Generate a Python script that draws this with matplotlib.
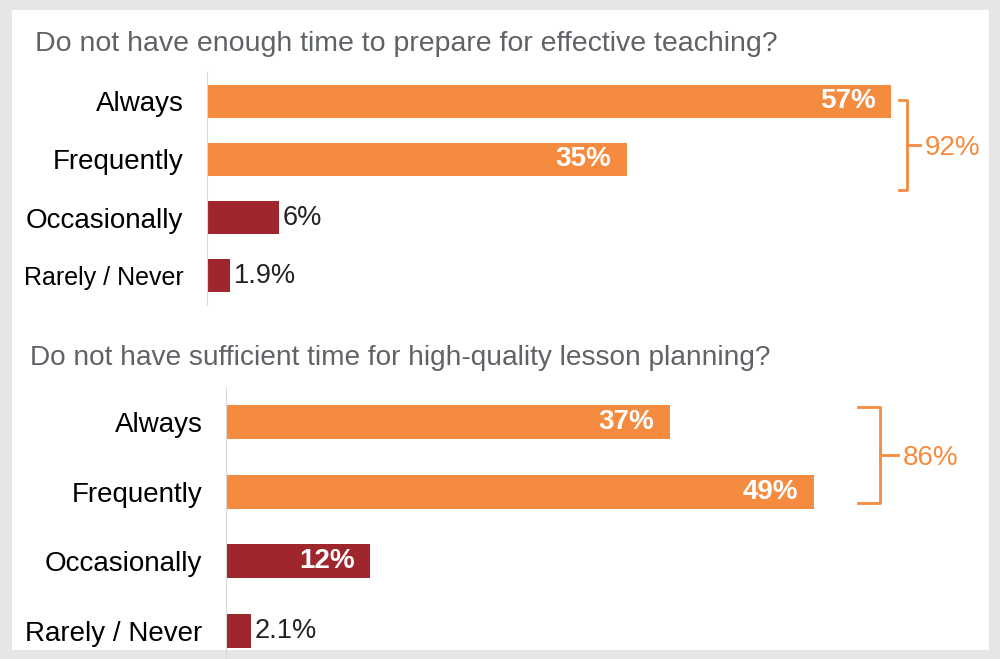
import matplotlib.pyplot as plt
from matplotlib.patches import Rectangle

plt.rcParams['font.family'] = ['Liberation Sans', 'DejaVu Sans']

# Данные
categories = ['Always', 'Frequently', 'Occasionally', 'Rarely / Never']
title_top = 'Do not have enough time to prepare for effective teaching?'
values_top = [57, 35, 6, 1.9]
labels_top = ['57%', '35%', '6%', '1.9%']
total_top = '92%'

title_bottom = 'Do not have sufficient time for high-quality lesson planning?'
values_bottom = [37, 49, 12, 2.1]
labels_bottom = ['37%', '49%', '12%', '2.1%']
total_bottom = '86%'

orange = '#F58B3F'
red = '#A0262D'
colors = [orange, orange, red, red]

W, H = 1000, 659
fig = plt.figure(figsize=(W / 100, H / 100), dpi=100)
fig.patch.set_facecolor('#e6e6e6')
fig.patches.append(Rectangle((12 / W, (H - 650) / H), 977 / W, 640 / H,
                             transform=fig.transFigure, facecolor='white',
                             edgecolor='none', zorder=-5))


def panel(left, top, bottom, values, labels, title, title_xy, title_size,
          total, bracket, rare_size, bar_h):
    ax = fig.add_axes([left / W, (H - bottom) / H, (990 - left) / W, (bottom - top) / H])
    ax.patch.set_alpha(0)
    ax.barh(range(len(values)), values, height=bar_h, color=colors)
    ax.set_xlim(0, (990 - left) / 12)
    ax.set_ylim(3.5, -0.5)
    for s in ['top', 'right', 'bottom']:
        ax.spines[s].set_visible(False)
    ax.spines['left'].set_color('#d9d9d9')
    ax.set_xticks([])
    ax.set_yticks(range(len(categories)))
    ax.set_yticklabels(categories, fontsize=20)
    ax.get_yticklabels()[3].set_fontsize(rare_size)
    ax.tick_params(axis='y', length=0, pad=17)
    for i, (v, lab) in enumerate(zip(values, labels)):
        if v >= 10:
            ax.text(v - 1.3, i, lab, ha='right', va='center', color='white',
                    fontsize=20, fontweight='bold')
        else:
            ax.text(v + 0.3, i, lab, ha='left', va='center', color='#222222',
                    fontsize=19.5)
    # фигурная скобка
    bx, y0, y1, ym, sx, tx = bracket
    ax.plot([sx, bx, bx, sx], [y0, y0, y1, y1], color=orange, lw=2,
            clip_on=False, solid_joinstyle='round')
    ax.plot([bx, tx], [ym, ym], color=orange, lw=2, clip_on=False)
    ax.text(tx + 0.4, ym + 0.05, total, ha='left', va='center', color=orange,
            fontsize=20, clip_on=False)
    fig.text(title_xy[0] / W, (H - title_xy[1]) / H, title, ha='left',
             va='center', color='#5f6368', fontsize=title_size)
    return ax


panel(207, 72, 305, values_top, labels_top, title_top, (35, 44), 20.5,
      total_top, (58.3, -0.02, 1.53, 0.755, 57.7, 59.4), 18, 0.57)
panel(226, 387, 666, values_bottom, labels_bottom, title_bottom, (30, 358), 20.2,
      total_bottom, (54.5, -0.22, 1.16, 0.47, 52.7, 56.0), 20, 0.49)

fig.savefig('out.png', dpi=100, facecolor=fig.get_facecolor())
